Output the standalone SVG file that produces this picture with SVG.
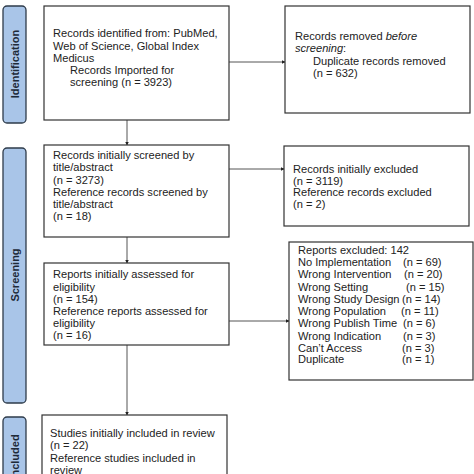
<svg xmlns="http://www.w3.org/2000/svg" width="474" height="474" viewBox="0 0 474 474">
<style>
.bg{fill:#fff}
.side{fill:#a9c5e8;stroke:#2e3b4a;stroke-width:1.3}
.box{fill:#fff;stroke:#333;stroke-width:1.2}
.lbl{font-family:"Liberation Sans",Arial,sans-serif;font-size:11px;font-weight:bold;fill:#1e2a38;text-anchor:middle}
.t{font-family:"Liberation Sans",Arial,sans-serif;font-size:11.1px;fill:#222}
.con{stroke:#555;stroke-width:1;fill:none;marker-end:url(#ah)}
</style>
<defs>
<marker id="ah" markerWidth="4" markerHeight="4" refX="3.5" refY="2" orient="auto" markerUnits="userSpaceOnUse">
<path d="M0,0 L4,2 L0,4 z" fill="#222"/>
</marker>
</defs>
<rect class="bg" x="0" y="0" width="474" height="474"/>

<g id="side-identification">
<rect class="side" x="3" y="6" width="23" height="117" rx="4"/>
<text class="lbl" transform="translate(18.5,64) rotate(-90)">Identification</text>
</g>
<g id="side-screening">
<rect class="side" x="3" y="148" width="23" height="255" rx="4"/>
<text class="lbl" transform="translate(18.5,275) rotate(-90)">Screening</text>
</g>
<g id="side-included">
<rect class="side" x="3" y="417" width="23" height="80" rx="4"/>
<text class="lbl" transform="translate(18.5,457) rotate(-90)">Included</text>
</g>

<g id="connectors">
<line class="con" x1="229" y1="62" x2="285" y2="62"/>
<line class="con" x1="127" y1="120" x2="127" y2="145"/>
<line class="con" x1="229" y1="169" x2="284" y2="169"/>
<line class="con" x1="127" y1="237" x2="127" y2="263"/>
<line class="con" x1="229" y1="321" x2="289" y2="321"/>
<line class="con" x1="127" y1="345" x2="127" y2="415"/>
</g>

<g id="n1">
<rect class="box" x="44" y="6" width="185" height="114"/>
<text class="t" x="53" y="37">Records identified from: PubMed,</text>
<text class="t" x="53" y="50">Web of Science, Global Index</text>
<text class="t" x="53" y="62">Medicus</text>
<text class="t" x="70" y="74">Records Imported for</text>
<text class="t" x="70" y="86">screening (n = 3923)</text>
</g>
<g id="n2">
<rect class="box" x="285" y="6" width="185" height="107"/>
<text class="t" x="295" y="40">Records removed <tspan font-style="italic">before</tspan></text>
<text class="t" x="295" y="52"><tspan font-style="italic">screening</tspan>:</text>
<text class="t" x="313" y="65">Duplicate records removed</text>
<text class="t" x="313" y="77">(n = 632)</text>
</g>
<g id="n3">
<rect class="box" x="44" y="145" width="185" height="92"/>
<text class="t" x="53" y="159">Records initially screened by</text>
<text class="t" x="53" y="171">title/abstract</text>
<text class="t" x="53" y="184">(n = 3273)</text>
<text class="t" x="53" y="196">Reference records screened by</text>
<text class="t" x="53" y="208">title/abstract</text>
<text class="t" x="53" y="220">(n = 18)</text>
</g>
<g id="n4">
<rect class="box" x="284" y="146" width="185" height="80"/>
<text class="t" x="293" y="173">Records initially excluded</text>
<text class="t" x="293" y="185">(n = 3119)</text>
<text class="t" x="293" y="196">Reference records excluded</text>
<text class="t" x="293" y="208">(n = 2)</text>
</g>
<g id="n5">
<rect class="box" x="44" y="263" width="185" height="82"/>
<text class="t" x="53" y="278">Reports initially assessed for</text>
<text class="t" x="53" y="291">eligibility</text>
<text class="t" x="53" y="303">(n = 154)</text>
<text class="t" x="53" y="315">Reference reports assessed for</text>
<text class="t" x="53" y="327">eligibility</text>
<text class="t" x="53" y="339">(n = 16)</text>
</g>
<g id="n6">
<rect class="box" x="289" y="242" width="184" height="138"/>
<text class="t" x="298" y="254">Reports excluded: 142</text>
<text class="t" x="298" y="266">No Implementation</text><text class="t" x="403" y="266">(n = 69)</text>
<text class="t" x="298" y="278">Wrong Intervention</text><text class="t" x="404" y="278">(n = 20)</text>
<text class="t" x="298" y="291">Wrong Setting</text><text class="t" x="406" y="291">(n = 15)</text>
<text class="t" x="298" y="303">Wrong Study Design</text><text class="t" x="402" y="303">(n = 14)</text>
<text class="t" x="298" y="315">Wrong Population</text><text class="t" x="401" y="315">(n = 11)</text>
<text class="t" x="298" y="327">Wrong Publish Time</text><text class="t" x="403" y="327">(n = 6)</text>
<text class="t" x="298" y="340">Wrong Indication</text><text class="t" x="403" y="340">(n = 3)</text>
<text class="t" x="298" y="352">Can’t Access</text><text class="t" x="402" y="352">(n = 3)</text>
<text class="t" x="298" y="363">Duplicate</text><text class="t" x="402" y="363">(n = 1)</text>
</g>
<g id="n7">
<rect class="box" x="42" y="415" width="185" height="80"/>
<text class="t" x="50" y="437">Studies initially included in review</text>
<text class="t" x="50" y="449">(n = 22)</text>
<text class="t" x="50" y="462">Reference studies included in</text>
<text class="t" x="50" y="474">review</text>
</g>
</svg>
